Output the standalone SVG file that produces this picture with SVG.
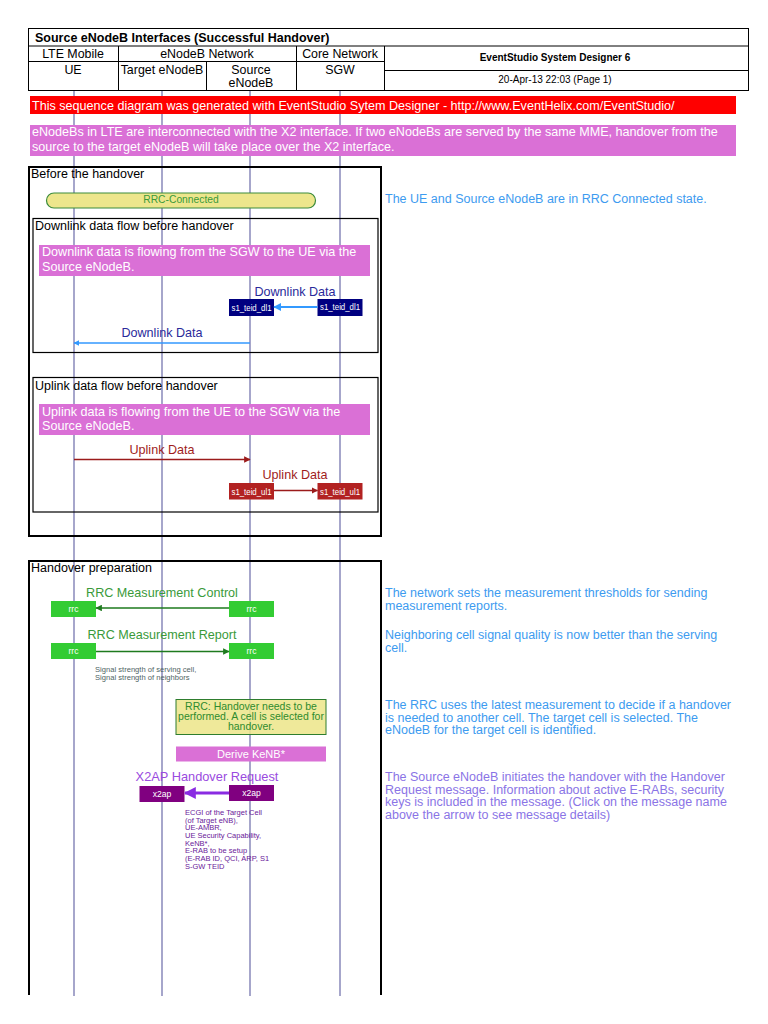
<svg xmlns="http://www.w3.org/2000/svg" width="768" height="1024" viewBox="0 0 768 1024">
<defs>
<style>
text{font-family:"Liberation Sans",Arial,sans-serif;}
.hdr{font-size:12.4px;fill:#000;text-anchor:middle;}
.ln{fill:none;stroke:#000;stroke-width:1;}
.life{stroke:#6b6ba8;stroke-width:1.2;}
.ftitle{font-size:12.5px;fill:#000;}
.note{font-size:12.5px;fill:#3d9bf0;}
.wt{font-size:12.6px;fill:#fff;}
.lbl{font-size:12.6px;text-anchor:middle;}
.box{font-size:8.6px;fill:#fff;text-anchor:middle;}
.frame{fill:none;stroke:#000;stroke-width:2;}
.iframe{fill:none;stroke:#000;stroke-width:1.2;}
</style>
<marker id="ahBlue" viewBox="0 0 10 10" refX="9" refY="5" markerWidth="4" markerHeight="4" orient="auto"><path d="M0,0 L10,5 L0,10 z" fill="#3399ff"/></marker>
<marker id="ahRed" viewBox="0 0 10 10" refX="9" refY="5" markerWidth="5" markerHeight="5" orient="auto"><path d="M0,0 L10,5 L0,10 z" fill="#9b1b1b"/></marker>
<marker id="ahGreen" viewBox="0 0 10 10" refX="9" refY="5" markerWidth="5" markerHeight="5" orient="auto"><path d="M0,0 L10,5 L0,10 z" fill="#1e7a1e"/></marker>
<marker id="ahPurple" viewBox="0 0 10 10" refX="9" refY="5" markerWidth="4" markerHeight="4" orient="auto"><path d="M0,0 L10,5 L0,10 z" fill="#8a2be2"/></marker>
</defs>
<rect width="768" height="1024" fill="#fff"/>

<!-- header -->
<g id="header">
<rect x="28.5" y="28.5" width="720" height="62" class="ln"/>
<line x1="28" y1="46" x2="748" y2="46" class="ln"/>
<line x1="28" y1="61.5" x2="384" y2="61.5" class="ln"/>
<line x1="384" y1="70.5" x2="748" y2="70.5" class="ln"/>
<line x1="118.5" y1="46" x2="118.5" y2="91" class="ln"/>
<line x1="206.5" y1="61.5" x2="206.5" y2="91" class="ln"/>
<line x1="296.5" y1="46" x2="296.5" y2="91" class="ln"/>
<line x1="384.5" y1="46" x2="384.5" y2="91" class="ln"/>
<text x="35" y="41.5" style="font-size:12.5px;font-weight:bold;fill:#000">Source eNodeB Interfaces (Successful Handover)</text>
<text x="73" y="58" class="hdr">LTE Mobile</text>
<text x="207" y="58" class="hdr">eNodeB Network</text>
<text x="340" y="58" class="hdr">Core Network</text>
<text x="73" y="74" class="hdr">UE</text>
<text x="162" y="74" class="hdr">Target eNodeB</text>
<text x="251" y="74" class="hdr">Source</text>
<text x="251" y="87" class="hdr">eNodeB</text>
<text x="340" y="74" class="hdr">SGW</text>
<text x="555" y="61" style="font-size:10px;font-weight:bold;fill:#000;text-anchor:middle">EventStudio System Designer 6</text>
<text x="555" y="83" style="font-size:10px;fill:#000;text-anchor:middle">20-Apr-13 22:03 (Page 1)</text>
</g>

<!-- lifelines -->
<g id="lifelines">
<line x1="74" y1="91" x2="74" y2="996" class="life"/>
<line x1="162" y1="91" x2="162" y2="996" class="life"/>
<line x1="250" y1="91" x2="250" y2="996" class="life"/>
<line x1="340" y1="91" x2="340" y2="996" class="life"/>
</g>

<!-- banners -->
<g id="banner-red">
<rect x="30" y="96" width="706" height="18" fill="#ff0000"/>
<text x="32" y="109.5" class="wt">This sequence diagram was generated with EventStudio Sytem Designer - http://www.EventHelix.com/EventStudio/</text>
</g>
<g id="banner-pink">
<rect x="30" y="125" width="706" height="31" fill="#da70d6"/>
<text x="32" y="136" class="wt">eNodeBs in LTE are interconnected with the X2 interface. If two eNodeBs are served by the same MME, handover from the</text>
<text x="32" y="150.5" class="wt">source to the target eNodeB will take place over the X2 interface.</text>
</g>

<!-- Before the handover -->
<g id="frame-before">
<rect x="29" y="167" width="352" height="369" class="frame"/>
<text x="31" y="178" class="ftitle">Before the handover</text>
</g>
<g id="rrc-connected">
<rect x="46.5" y="193" width="269" height="15" rx="7.5" ry="7.5" fill="#ede68c" stroke="#3c8c3c" stroke-width="1.2"/>
<text x="181" y="203" style="font-size:10.3px;fill:#3a9a3a;text-anchor:middle">RRC-Connected</text>
</g>
<text id="note-rrc-connected" x="385" y="202.5" class="note">The UE and Source eNodeB are in RRC Connected state.</text>

<g id="frame-downlink">
<rect x="33" y="218.5" width="345" height="134" class="iframe"/>
<text x="35" y="230" class="ftitle">Downlink data flow before handover</text>
</g>
<g id="note-downlink">
<rect x="39" y="245" width="331" height="31" fill="#da70d6"/>
<text x="42" y="256" class="wt">Downlink data is flowing from the SGW to the UE via the</text>
<text x="42" y="270.5" class="wt">Source eNodeB.</text>
</g>
<g id="dl-box-src"><rect x="229" y="299" width="45" height="17" fill="#000080"/><text x="251.5" y="310.5" class="box" textLength="40" lengthAdjust="spacingAndGlyphs">s1_teid_dl1</text></g>
<g id="dl-box-sgw"><rect x="317.5" y="299" width="45" height="17" fill="#000080"/><text x="340" y="310" class="box" textLength="40" lengthAdjust="spacingAndGlyphs">s1_teid_dl1</text></g>

<g id="frame-uplink">
<rect x="33" y="377.5" width="345" height="134.5" class="iframe"/>
<text x="35" y="389.5" class="ftitle">Uplink data flow before handover</text>
</g>
<g id="note-uplink">
<rect x="39" y="404" width="331" height="31" fill="#da70d6"/>
<text x="42" y="416" class="wt">Uplink data is flowing from the UE to the SGW via the</text>
<text x="42" y="430" class="wt">Source eNodeB.</text>
</g>
<g id="ul-box-src"><rect x="229" y="483" width="45" height="16.5" fill="#b22222"/><text x="251.5" y="494.5" class="box" textLength="40" lengthAdjust="spacingAndGlyphs">s1_teid_ul1</text></g>
<g id="ul-box-sgw"><rect x="317.5" y="483" width="45" height="16.5" fill="#b22222"/><text x="340" y="494.5" class="box" textLength="40" lengthAdjust="spacingAndGlyphs">s1_teid_ul1</text></g>

<!-- Handover preparation -->
<g id="frame-handover">
<path d="M29,995 L29,561 L381,561 L381,995" class="frame"/>
<text x="31" y="572" class="ftitle">Handover preparation</text>
</g>
<g id="rrc-ctl-ue"><rect x="51" y="601" width="45" height="16" fill="#33cc33"/><text x="73.5" y="612" class="box">rrc</text></g>
<g id="rrc-ctl-src"><rect x="229" y="601" width="45" height="16" fill="#33cc33"/><text x="251.5" y="612" class="box">rrc</text></g>
<g id="rrc-rep-ue"><rect x="51" y="643" width="45" height="16" fill="#33cc33"/><text x="73.5" y="654" class="box">rrc</text></g>
<g id="rrc-rep-src"><rect x="229" y="643" width="45" height="16" fill="#33cc33"/><text x="251.5" y="654" class="box">rrc</text></g>
<g id="rrc-rep-params" style="font-size:7.6px;fill:#4f6464">
<text x="95" y="671.5">Signal strength of serving cell,</text>
<text x="95" y="680">Signal strength of neighbors</text>
</g>
<g id="note-meas-ctl" class="note">
<text x="385" y="597">The network sets the measurement thresholds for sending</text>
<text x="385" y="609.5">measurement reports.</text>
</g>
<g id="note-meas-rep" class="note">
<text x="385" y="639">Neighboring cell signal quality is now better than the serving</text>
<text x="385" y="651.5">cell.</text>
</g>
<g id="action-rrc">
<rect x="176" y="699.5" width="150" height="35" fill="#ede68c" fill-opacity="0.88" stroke="#2e7d2e" stroke-width="1"/>
<g style="font-size:10.5px;fill:#2e8b2e;text-anchor:middle">
<text x="251" y="709.5">RRC: Handover needs to be</text>
<text x="251" y="720">performed. A cell is selected for</text>
<text x="251" y="730">handover.</text>
</g>
</g>
<g id="action-kenb">
<rect x="176" y="746.5" width="150" height="15" fill="#da70d6"/>
<text x="251" y="757.5" style="font-size:11px;fill:#fff;text-anchor:middle">Derive KeNB*</text>
</g>
<g id="note-rrc-decide" class="note">
<text x="385" y="709">The RRC uses the latest measurement to decide if a handover</text>
<text x="385" y="721.5">is needed to another cell. The target cell is selected. The</text>
<text x="385" y="734">eNodeB for the target cell is identified.</text>
</g>
<g id="x2ap-tgt"><rect x="139.5" y="786" width="45" height="16" fill="#800080"/><text x="162" y="797" class="box">x2ap</text></g>
<g id="x2ap-src"><rect x="229" y="785" width="45" height="16" fill="#800080"/><text x="251.5" y="796" class="box">x2ap</text></g>
<g id="x2ap-params" style="font-size:7.5px;fill:#6a1a9a">
<text x="185" y="815">ECGI of the Target Cell</text>
<text x="185" y="822.7">(of Target eNB),</text>
<text x="185" y="830.3">UE-AMBR,</text>
<text x="185" y="838">UE Security Capability,</text>
<text x="185" y="845.7">KeNB*,</text>
<text x="185" y="853.3">E-RAB to be setup</text>
<text x="185" y="861">(E-RAB ID, QCI, ARP, S1</text>
<text x="185" y="868.7">S-GW TEID</text>
</g>
<g id="note-x2ap" style="font-size:12.5px;fill:#8a74e6">
<text x="385" y="781">The Source eNodeB initiates the handover with the Handover</text>
<text x="385" y="793.5">Request message. Information about active E-RABs, security</text>
<text x="385" y="806">keys is included in the message. (Click on the message name</text>
<text x="385" y="818.5">above the arrow to see message details)</text>
</g>

<!-- connectors -->
<g id="connectors">
<line x1="317.5" y1="307" x2="274" y2="307" stroke="#3399ff" stroke-width="2" marker-end="url(#ahBlue)"/>
<text x="295" y="296" class="lbl" fill="#2a2a9a">Downlink Data</text>
<line x1="250" y1="343" x2="74" y2="343" stroke="#3399ff" stroke-width="1.5" marker-end="url(#ahBlue)"/>
<text x="162" y="337" class="lbl" fill="#2a2a9a">Downlink Data</text>
<line x1="74" y1="459.5" x2="250" y2="459.5" stroke="#9b1b1b" stroke-width="1.3" marker-end="url(#ahRed)"/>
<text x="162" y="454" class="lbl" fill="#a01c1c">Uplink Data</text>
<line x1="274" y1="490.5" x2="317.5" y2="490.5" stroke="#9b1b1b" stroke-width="1.3" marker-end="url(#ahRed)"/>
<text x="295" y="479" class="lbl" fill="#a01c1c">Uplink Data</text>
<line x1="229" y1="608" x2="96" y2="608" stroke="#1e7a1e" stroke-width="1.3" marker-end="url(#ahGreen)"/>
<text x="162" y="597" class="lbl" fill="#3a9a3a">RRC Measurement Control</text>
<line x1="96" y1="651.5" x2="229" y2="651.5" stroke="#1e7a1e" stroke-width="1.3" marker-end="url(#ahGreen)"/>
<text x="162" y="639" class="lbl" fill="#3a9a3a">RRC Measurement Report</text>
<line x1="229" y1="793" x2="185" y2="793" stroke="#8a2be2" stroke-width="3" marker-end="url(#ahPurple)"/>
<text x="207" y="781" style="font-size:12.8px;fill:#9a4ae0;text-anchor:middle">X2AP Handover Request</text>
</g>
</svg>
